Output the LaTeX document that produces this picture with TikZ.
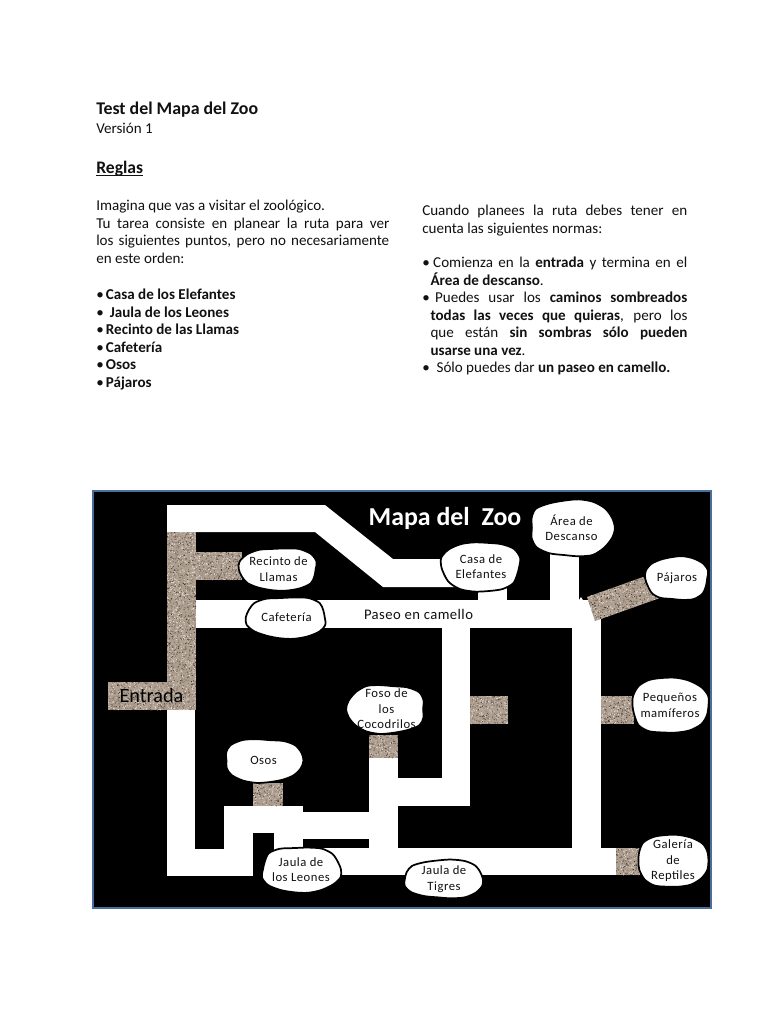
\documentclass[tikz,border=0pt]{standalone}
\usepackage{fontspec}
\setmainfont{Carlito}
\usetikzlibrary{shapes.geometric}
\definecolor{mapborder}{HTML}{4A6F9F}
\definecolor{gravbase}{HTML}{AE9F91}
\definecolor{gravdark}{HTML}{3E332A}
\definecolor{gravmid}{HTML}{7D6D5F}
\definecolor{gravlight}{HTML}{E6DED6}
\definecolor{bodyink}{HTML}{111111}
\tikzset{
  blobshape/.style={draw=black,line width=1.3pt,fill=white},
  blobtext/.style={font=\fontsize{9.5}{11.6}\selectfont\addfontfeature{LetterSpace=4},text=bodyink,align=center,inner sep=0pt},
  para/.style={anchor=north west,inner sep=0pt,align=left,text=bodyink,
    font=\fontsize{11.3}{13.1}\selectfont},
  walk/.style={fill=white,draw=none},
}
\newcommand{\jl}[2]{\makebox[\dimexpr #1pt*3/4\relax][s]{#2}}
% name, x1, y1, x2, y2, text
\newcommand{\blob}[6]{%
  \draw[blobshape] plot[smooth cycle,samples=18,domain=0:340,variable=\t]
    ({(#2+#4)/2+(#4-#2)/2*cos(\t)*(1.0+0.04*(1-cos(4*\t))+0.03*sin(3*\t+#2*7)+0.02*sin(5*\t+#3*3))},
     {(#3+#5)/2+(#5-#3)/2*sin(\t)*(1.0+0.04*(1-cos(4*\t))+0.03*sin(3*\t+#3*7)+0.02*sin(5*\t+#2*3))});
  \node[blobtext] (#1) at ({(#2+#4)/2},{(#3+#5)/2}) {#6};}
% x1,y1,x2,y2, clip path
\newcommand{\gravelin}[5]{%
  \begin{scope}
    \clip #5;
    \fill[gravbase] (#1,#2) rectangle (#3,#4);
    \pgfmathtruncatemacro{\gn}{(#3-#1)*(#4-#2)/3.2}
    \foreach \gi in {1,...,\gn}{%
      \pgfmathsetmacro{\gx}{#1+rnd*(#3-#1)}
      \pgfmathsetmacro{\gy}{#2+rnd*(#4-#2)}
      \pgfmathtruncatemacro{\gk}{mod(\gi,5)}
      \ifcase\gk\relax\def\gc{gravdark}\or\def\gc{gravlight}\or\def\gc{gravmid}\or\def\gc{gravlight}\or\def\gc{gravmid}\fi
      \fill[\gc] (\gx,\gy) circle[radius=0.55];
    }
  \end{scope}}
\newcommand{\gravel}[4]{\gravelin{#1}{#2}{#3}{#4}{(#1,#2) rectangle (#3,#4)}}
\pgfmathsetseed{4242}
\begin{document}
\begin{tikzpicture}[x=0.75pt,y=-0.75pt]
\useasboundingbox (0,0) rectangle (768,1024);
\fill[white] (0,0) rectangle (768,1024);

% ---- header text
\node[para,font=\fontsize{13.4}{16}\selectfont\bfseries] (title) at (96,102) {Test del Mapa del Zoo};
\node[para] (version) at (96,123) {Versión 1};
\node[para,font=\fontsize{13.2}{16}\selectfont\bfseries] (reglas) at (96,161) {Reglas\rlap{\kern-35pt\rule[-1.8pt]{35pt}{0.75pt}}};

\node[para] (left) at (96,200) {%
  Imagina que vas a visitar el zoológico.\\
  \jl{293}{Tu tarea consiste en planear la ruta para ver}\\
  \jl{293}{los siguientes puntos, pero no necesariamente}\\
  en este orden:};
\node[para] (bullets) at (96,289) {%
  •\kern1.6pt\textbf{Casa de los Elefantes}\\
  •\kern4.6pt\textbf{Jaula de los Leones}\\
  •\kern1.6pt\textbf{Recinto de las Llamas}\\
  •\kern1.6pt\textbf{Cafetería}\\
  •\kern1.6pt\textbf{Osos}\\
  •\kern1.6pt\textbf{Pájaros}};

\node[para] (right1) at (422,205) {%
  \jl{265}{Cuando planees la ruta debes tener en}\\
  cuenta las siguientes normas:};
\node[para] (right2) at (422,257) {%
  \jl{265}{•\kern2.6pt Comienza en la \textbf{entrada} y termina en el}\\
  \hspace*{6.2pt}\textbf{Área de descanso}.\\
  \jl{265}{•\kern4pt Puedes usar los \textbf{caminos sombreados}}\\
  \hspace*{6.2pt}\jl{257}{\textbf{todas las veces que quieras}, pero los}\\
  \hspace*{6.2pt}\jl{257}{que están \textbf{sin sombras sólo pueden}}\\
  \hspace*{6.2pt}\textbf{usarse una vez}.\\
  •\ \ Sólo puedes dar\ \textbf{un paseo en camello.}};

% ---- map
\fill[black] (93,491) rectangle (711,908);
\draw[mapborder,line width=1.6pt] (93,491) rectangle (711,908);

% white paths
\fill[walk] (167,505) -- (325,505) -- (393,559) -- (450,559) -- (455,587) -- (383,587) -- (315,532) -- (167,532) -- cycle;
\fill[walk] (195,600) rectangle (601,628);
\fill[walk] (572,600) rectangle (601,875);
\fill[walk] (300,848) rectangle (616,875);
\fill[walk] (442,628) rectangle (470,806);
\fill[walk] (398,778) rectangle (470,806);
\fill[walk] (369,758) rectangle (398,848);
\fill[walk] (167,710) rectangle (195,876);
\fill[walk] (167,849) rectangle (253,876);
\fill[walk] (224,806) rectangle (253,876);
\fill[walk] (224,806) rectangle (303,833);
\fill[walk] (274,806) rectangle (303,850);
\fill[walk] (303,812) rectangle (369,839);
\fill[walk] (550,550) rectangle (579,600);
\fill[walk] (478,585) rectangle (507,600);
\fill[walk] (579,600) -- (581,597) -- (596,622) -- (601,628) -- cycle;

% gravel
\gravel{167}{532}{196}{710}
\gravel{108}{682}{167}{710}
\gravel{196}{552}{242}{580}
\gravel{470}{696}{508}{724}
\gravel{601}{696}{634}{724}
\gravel{616}{848}{640}{875}
\gravel{369}{735}{398}{758}
\gravel{253}{783}{283}{806}
\gravelin{587}{577}{660}{621}{(587,597) -- (643,577) -- (660,598) -- (595,621) -- cycle}

% blobs
\blob{recinto}{240}{548}{317}{590}{Recinto de\\Llamas}
\blob{cafeteria}{247}{597}{326}{638}{Cafetería}
\blob{casa}{442}{542}{520}{591}{Casa de\\Elefantes}
\blob{area}{530}{500}{613}{556}{Área de\\Descanso}
\blob{pajaros}{646}{557}{708}{600}{Pájaros}
\blob{pequenos}{632}{678}{708}{733}{Pequeños\\mamíferos}
\blob{galeria}{638}{835}{708}{887}{Galería\\de\\Reptiles}
\blob{tigres}{405}{860}{483}{898}{Jaula de\\Tigres}
\blob{leones}{262}{847}{340}{892}{Jaula de\\los Leones}
\blob{osos}{225}{739}{302}{782}{Osos}
\blob{foso}{348}{685}{425}{733}{Foso de\\los\\Cocodrilos}

% map labels
\node[inner sep=0pt,text=white,font=\fontsize{19.4}{22}\selectfont\bfseries] (maptitle) at (445,518) {Mapa del\ \ Zoo};
\node[inner sep=0pt,text=black,font=\fontsize{15.2}{17}\selectfont] (entrada) at (151.5,696) {Entrada};
\node[inner sep=0pt,text=bodyink,font=\fontsize{11}{12}\selectfont\addfontfeature{LetterSpace=3}] (paseo) at (418.5,614) {Paseo en camello};
\end{tikzpicture}
\end{document}
